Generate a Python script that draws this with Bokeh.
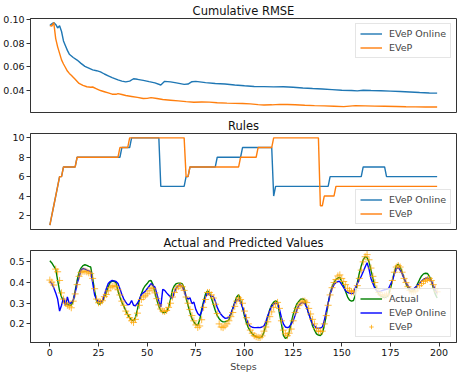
from bokeh.plotting import figure
from bokeh.models import Range1d, FixedTicker
from bokeh.layouts import column
from bokeh.embed import file_html
from bokeh.resources import INLINE

# ---------------- data ----------------
# Panel 1: cumulative RMSE (read at selected steps)
rmse_online_steps = [0, 1, 2, 3, 4, 5, 6, 7, 8, 9, 10, 12, 14, 16, 18, 20, 22, 24, 26, 28, 30, 32, 35, 37,
                     39, 41, 43, 45, 48, 51, 54, 57, 59, 62, 65, 69, 71, 73, 75, 80, 85, 90, 95, 100, 105,
                     110, 115, 120, 125, 130, 135, 140, 145, 150, 155, 158, 161, 165, 170, 175, 180, 185,
                     190, 195, 199]
rmse_online = [0.095, 0.0965, 0.0975, 0.096, 0.093, 0.0948, 0.09, 0.082, 0.078, 0.074, 0.0708, 0.068,
               0.0658, 0.063, 0.0605, 0.059, 0.0575, 0.0568, 0.0558, 0.054, 0.0525, 0.051, 0.049, 0.048,
               0.0473, 0.048, 0.050, 0.0495, 0.0486, 0.0475, 0.0465, 0.0447, 0.0478, 0.0473, 0.0465,
               0.0452, 0.0455, 0.0475, 0.0478, 0.0467, 0.046, 0.0455, 0.0447, 0.044, 0.0434, 0.0433,
               0.0431, 0.0432, 0.0428, 0.0422, 0.0417, 0.0413, 0.0408, 0.0403, 0.040, 0.0397, 0.0402,
               0.040, 0.0398, 0.0395, 0.0392, 0.0388, 0.0383, 0.0379, 0.0378]
rmse_evep_steps = [0, 1, 2, 3, 4, 5, 6, 7, 8, 9, 10, 11, 13, 15, 17, 19, 21, 22, 24, 26, 28, 30, 32, 34,
                   35, 37, 39, 42, 45, 48, 50, 52, 55, 58, 62, 66, 70, 74, 78, 82, 86, 91, 95, 99, 103,
                   107, 110, 114, 118, 122, 126, 131, 136, 141, 146, 151, 154, 157, 162, 167, 172, 178,
                   183, 188, 193, 199]
rmse_evep = [0.095, 0.0945, 0.0975, 0.084, 0.077, 0.0715, 0.066, 0.0625, 0.0595, 0.0565, 0.0545, 0.053,
             0.0495, 0.046, 0.0443, 0.0432, 0.0428, 0.043, 0.0415, 0.040, 0.039, 0.038, 0.0369, 0.0368,
             0.0374, 0.0366, 0.0358, 0.035, 0.0342, 0.0333, 0.0334, 0.034, 0.0332, 0.0324, 0.0318,
             0.0312, 0.0306, 0.0301, 0.0303, 0.0302, 0.0297, 0.0293, 0.0291, 0.029, 0.0287, 0.0281,
             0.0277, 0.0279, 0.0283, 0.0282, 0.0279, 0.0275, 0.0272, 0.027, 0.0267, 0.0264, 0.0268,
             0.0272, 0.027, 0.0268, 0.0267, 0.0265, 0.0263, 0.0262, 0.0261, 0.0261]

# Panels 2 and 3: one value per step 0..199
steps = list(range(200))

rules_online = [
    1, 2, 3, 4, 5, 6, 6, 7, 7, 7,
    7, 7, 7, 7, 8, 8, 8, 8, 8, 8,
    8, 8, 8, 8, 8, 8, 8, 8, 8, 8,
    8, 8, 8, 8, 8, 8, 8, 9, 9, 9,
    9, 9, 10, 10, 10, 10, 10, 10, 10, 10,
    10, 10, 10, 10, 10, 10, 10, 5, 5, 5,
    5, 5, 5, 5, 5, 5, 5, 5, 5, 5,
    6, 6, 7, 7, 7, 7, 7, 7, 7, 7,
    7, 7, 7, 7, 7, 7, 8, 8, 8, 8,
    8, 8, 8, 8, 8, 8, 8, 8, 8, 9,
    9, 9, 9, 9, 9, 9, 9, 9, 9, 9,
    9, 9, 9, 9, 9, 4, 5, 5, 5, 5,
    5, 5, 5, 5, 5, 5, 5, 5, 5, 5,
    5, 5, 5, 5, 5, 5, 5, 5, 5, 5,
    5, 5, 5, 5, 6, 6, 6, 6, 6, 6,
    6, 6, 6, 6, 6, 6, 6, 6, 6, 6,
    6, 7, 7, 7, 7, 7, 7, 7, 7, 7,
    7, 7, 7, 6, 6, 6, 6, 6, 6, 6,
    6, 6, 6, 6, 6, 6, 6, 6, 6, 6,
    6, 6, 6, 6, 6, 6, 6, 6, 6, 6,
]
rules_evep = [
    1, 2, 3, 4, 5, 6, 6, 7, 7, 7,
    7, 7, 7, 7, 8, 8, 8, 8, 8, 8,
    8, 8, 8, 8, 8, 8, 8, 8, 8, 8,
    8, 8, 8, 8, 8, 8, 9, 9, 9, 9,
    9, 10, 10, 10, 10, 10, 10, 10, 10, 10,
    10, 10, 10, 10, 10, 10, 10, 10, 10, 10,
    10, 10, 10, 10, 10, 10, 10, 10, 10, 10,
    6, 6, 7, 7, 7, 7, 7, 7, 7, 7,
    7, 7, 7, 7, 7, 7, 7, 7, 7, 7,
    7, 7, 7, 7, 7, 7, 7, 7, 8, 8,
    8, 8, 8, 8, 8, 8, 8, 9, 9, 9,
    9, 9, 9, 9, 9, 10, 10, 10, 10, 10,
    10, 10, 10, 10, 10, 10, 10, 10, 10, 10,
    10, 10, 10, 10, 10, 10, 10, 10, 10, 3,
    3, 4, 4, 4, 4, 4, 4, 5, 5, 5,
    5, 5, 5, 5, 5, 5, 5, 5, 5, 5,
    5, 5, 5, 5, 5, 5, 5, 5, 5, 5,
    5, 5, 5, 5, 5, 5, 5, 5, 5, 5,
    5, 5, 5, 5, 5, 5, 5, 5, 5, 5,
    5, 5, 5, 5, 5, 5, 5, 5, 5, 5,
]

actual = [
    0.505, 0.495, 0.48, 0.465, 0.41, 0.36, 0.33, 0.31, 0.30, 0.295,
    0.29, 0.29, 0.31, 0.36, 0.41, 0.45, 0.47, 0.482, 0.486, 0.483,
    0.478, 0.475, 0.42, 0.36, 0.31, 0.295, 0.298, 0.31, 0.33, 0.35,
    0.38, 0.40, 0.407, 0.406, 0.40, 0.36, 0.33, 0.305, 0.285, 0.265,
    0.245, 0.23, 0.218, 0.215, 0.232, 0.27, 0.315, 0.345, 0.37, 0.385,
    0.395, 0.408, 0.41, 0.39, 0.35, 0.315, 0.285, 0.265, 0.255, 0.255,
    0.26, 0.28, 0.32, 0.365, 0.385, 0.395, 0.397, 0.397, 0.395, 0.375,
    0.325, 0.29, 0.255, 0.225, 0.21, 0.197, 0.193, 0.22, 0.27, 0.31,
    0.345, 0.36, 0.35, 0.325, 0.295, 0.265, 0.24, 0.225, 0.215, 0.21,
    0.21, 0.213, 0.22, 0.245, 0.275, 0.305, 0.33, 0.341, 0.315, 0.28,
    0.238, 0.205, 0.182, 0.165, 0.152, 0.143, 0.138, 0.134, 0.133, 0.138,
    0.16, 0.193, 0.235, 0.27, 0.292, 0.305, 0.311, 0.305, 0.25, 0.2,
    0.145, 0.13, 0.135, 0.16, 0.205, 0.245, 0.275, 0.298, 0.31, 0.32,
    0.321, 0.315, 0.28, 0.25, 0.225, 0.19, 0.17, 0.152, 0.146, 0.144,
    0.155, 0.19, 0.24, 0.30, 0.345, 0.38, 0.40, 0.415, 0.422, 0.425,
    0.405, 0.385, 0.355, 0.33, 0.315, 0.31, 0.313, 0.34, 0.40, 0.445,
    0.48, 0.51, 0.525, 0.52, 0.50, 0.46, 0.42, 0.38, 0.36, 0.345,
    0.335, 0.33, 0.328, 0.33, 0.34, 0.37, 0.41, 0.45, 0.48, 0.489,
    0.475, 0.45, 0.42, 0.395, 0.375, 0.36, 0.356, 0.362, 0.375, 0.395,
    0.415, 0.432, 0.442, 0.445, 0.444, 0.43, 0.41, 0.375, 0.345, 0.325,
]
online = [
    0.405, 0.395, 0.375, 0.35, 0.32, 0.262, 0.29, 0.325, 0.29, 0.33,
    0.296, 0.303, 0.315, 0.35, 0.395, 0.425, 0.46, 0.468, 0.465, 0.46,
    0.456, 0.452, 0.40, 0.34, 0.318, 0.308, 0.308, 0.312, 0.34, 0.37,
    0.395, 0.405, 0.41, 0.408, 0.405, 0.395, 0.37, 0.342, 0.32, 0.305,
    0.292, 0.295, 0.313, 0.29, 0.288, 0.30, 0.318, 0.342, 0.35, 0.357,
    0.37, 0.382, 0.395, 0.385, 0.378, 0.345, 0.31, 0.282, 0.367, 0.362,
    0.35, 0.34, 0.33, 0.325, 0.355, 0.375, 0.385, 0.39, 0.38, 0.36,
    0.333, 0.32, 0.326, 0.298, 0.305, 0.27, 0.25, 0.24, 0.26, 0.30,
    0.33, 0.348, 0.34, 0.333, 0.333, 0.31, 0.28, 0.26, 0.245, 0.235,
    0.227, 0.228, 0.232, 0.25, 0.274, 0.30, 0.315, 0.32, 0.305, 0.28,
    0.25, 0.222, 0.20, 0.188, 0.184, 0.182, 0.182, 0.183, 0.182, 0.185,
    0.19, 0.21, 0.24, 0.265, 0.285, 0.296, 0.302, 0.298, 0.27, 0.23,
    0.20, 0.185, 0.182, 0.185, 0.20, 0.215, 0.24, 0.27, 0.29, 0.30,
    0.304, 0.298, 0.28, 0.25, 0.222, 0.20, 0.19, 0.18, 0.178, 0.18,
    0.185, 0.215, 0.26, 0.30, 0.345, 0.37, 0.39, 0.40, 0.405, 0.405,
    0.39, 0.375, 0.36, 0.352, 0.348, 0.347, 0.348, 0.375, 0.395, 0.415,
    0.43, 0.452, 0.475, 0.496, 0.465, 0.42, 0.395, 0.372, 0.36, 0.356,
    0.358, 0.362, 0.365, 0.367, 0.37, 0.39, 0.41, 0.44, 0.465, 0.474,
    0.46, 0.444, 0.42, 0.40, 0.385, 0.372, 0.368, 0.37, 0.378, 0.388,
    0.398, 0.408, 0.415, 0.42, 0.422, 0.418, 0.407, 0.385, 0.365, 0.348,
]
evep = [
    0.412, 0.402, 0.388, 0.465, 0.452, 0.41, 0.35, 0.32, 0.30, 0.29,
    0.285, 0.278, 0.31, 0.345, 0.39, 0.43, 0.448, 0.455, 0.455, 0.452,
    0.447, 0.443, 0.42, 0.37, 0.32, 0.302, 0.305, 0.312, 0.332, 0.342,
    0.36, 0.375, 0.382, 0.385, 0.38, 0.365, 0.34, 0.31, 0.29, 0.262,
    0.245, 0.23, 0.215, 0.207, 0.222, 0.252, 0.29, 0.318, 0.33, 0.336,
    0.345, 0.36, 0.374, 0.37, 0.35, 0.322, 0.292, 0.272, 0.262, 0.26,
    0.265, 0.28, 0.30, 0.33, 0.352, 0.37, 0.38, 0.385, 0.38, 0.362,
    0.33, 0.30, 0.27, 0.24, 0.215, 0.195, 0.183, 0.19, 0.22, 0.28,
    0.318, 0.352, 0.352, 0.34, 0.325, 0.295, 0.25, 0.20, 0.185, 0.182,
    0.19, 0.20, 0.215, 0.235, 0.255, 0.285, 0.31, 0.326, 0.318, 0.30,
    0.262, 0.23, 0.20, 0.17, 0.155, 0.143, 0.138, 0.135, 0.134, 0.142,
    0.165, 0.185, 0.21, 0.235, 0.258, 0.28, 0.296, 0.304, 0.275, 0.215,
    0.17, 0.152, 0.143, 0.155, 0.175, 0.215, 0.255, 0.275, 0.29, 0.302,
    0.31, 0.31, 0.303, 0.275, 0.248, 0.222, 0.20, 0.177, 0.166, 0.163,
    0.165, 0.20, 0.24, 0.29, 0.34, 0.375, 0.40, 0.415, 0.432, 0.437,
    0.42, 0.405, 0.39, 0.372, 0.362, 0.356, 0.355, 0.36, 0.385, 0.42,
    0.46, 0.50, 0.525, 0.535, 0.51, 0.47, 0.43, 0.40, 0.37, 0.352,
    0.342, 0.336, 0.336, 0.34, 0.345, 0.37, 0.41, 0.45, 0.475, 0.482,
    0.475, 0.45, 0.42, 0.40, 0.38, 0.362, 0.355, 0.355, 0.36, 0.37,
    0.385, 0.395, 0.405, 0.41, 0.415, 0.42, 0.41, 0.39, 0.37, 0.355,
]

rmse_ticks = [0.04, 0.06, 0.08, 0.10]
rmse_tick_labels = ["0.04", "0.06", "0.08", "0.10"]
rules_ticks = [2, 4, 6, 8, 10]
rules_tick_labels = ["2", "4", "6", "8", "10"]
value_ticks = [0.2, 0.3, 0.4, 0.5]
value_tick_labels = ["0.2", "0.3", "0.4", "0.5"]
step_ticks = [0, 25, 50, 75, 100, 125, 150, 175, 200]
step_tick_labels = ["0", "25", "50", "75", "100", "125", "150", "175", "200"]

titles = ["Cumulative RMSE", "Rules", "Actual and Predicted Values"]

# ---------------- styling ----------------
FONT = "DejaVu Sans"
TICK_FS = "9.5px"
FRAME = "#333333"
C_BLUE = "#1f77b4"
C_ORANGE = "#ff7f0e"

x_range = Range1d(-9.95, 208.95)


def make_fig(title, height, y_range, yticks, ylabels, with_x):
    p = figure(width=458, height=height, x_range=x_range, y_range=y_range,
               output_backend="svg", toolbar_location=None,
               x_axis_location="below" if with_x else None,
               min_border_left=29, min_border_right=2, min_border_top=0,
               min_border_bottom=0 if with_x else 3)
    p.title.text = title
    p.title.align = "center"
    p.title.text_font = FONT
    p.title.text_font_size = "11.5px"
    p.title.text_font_style = "normal"
    p.title.text_color = "#111111"
    p.title.standoff = 2
    p.outline_line_color = FRAME
    p.outline_line_width = 1
    p.xgrid.visible = False
    p.ygrid.visible = False
    p.background_fill_color = "white"
    p.border_fill_color = "white"
    axes = [p.yaxis[0]] + ([p.xaxis[0]] if with_x else [])
    for ax in axes:
        ax.axis_line_color = FRAME
        ax.major_tick_line_color = FRAME
        ax.major_tick_out = 4
        ax.major_tick_in = 0
        ax.minor_tick_out = 0
        ax.minor_tick_in = 0
        ax.major_label_standoff = 2
        ax.major_label_text_font = FONT
        ax.major_label_text_font_size = TICK_FS
        ax.major_label_text_color = "#111111"
    p.yaxis.ticker = FixedTicker(ticks=yticks)
    p.yaxis.major_label_overrides = dict(zip(yticks, ylabels))
    if with_x:
        p.xaxis.ticker = FixedTicker(ticks=step_ticks)
        p.xaxis.major_label_overrides = dict(zip(step_ticks, step_tick_labels))
        p.xaxis.axis_label = "Steps"
        p.xaxis.axis_label_text_font = FONT
        p.xaxis.axis_label_text_font_size = TICK_FS
        p.xaxis.axis_label_text_font_style = "normal"
        p.xaxis.axis_label_standoff = 2
    return p


def style_legend(p, loc):
    lg = p.legend[0]
    lg.location = loc
    lg.label_text_font = FONT
    lg.label_text_font_size = TICK_FS
    lg.label_height = 11
    lg.glyph_height = 11
    lg.glyph_width = 22
    lg.label_standoff = 7
    lg.spacing = 3
    lg.padding = 4
    lg.margin = 5
    lg.border_line_color = "#cccccc"
    lg.border_line_width = 1
    lg.background_fill_color = "white"
    lg.background_fill_alpha = 0.8


# Panel 1
p1 = make_fig(titles[0], 115, Range1d(0.0214, 0.101), rmse_ticks, rmse_tick_labels, False)
p1.line(rmse_online_steps, rmse_online, color=C_BLUE, line_width=1.4, legend_label="EVeP Online")
p1.line(rmse_evep_steps, rmse_evep, color=C_ORANGE, line_width=1.4, legend_label="EVeP")
style_legend(p1, "top_right")

# Panel 2
p2 = make_fig(titles[1], 117, Range1d(0.55, 10.45), rules_ticks, rules_tick_labels, False)
p2.line(steps, rules_online, color=C_BLUE, line_width=1.4, legend_label="EVeP Online")
p2.line(steps, rules_evep, color=C_ORANGE, line_width=1.4, legend_label="EVeP")
style_legend(p2, "bottom_right")

# Panel 3
p3 = make_fig(titles[2], 142, Range1d(0.11, 0.555), value_ticks, value_tick_labels, True)
p3.line(steps, actual, color="green", line_width=1.4, legend_label="Actual")
p3.line(steps, online, color="blue", line_width=1.4, legend_label="EVeP Online")
p3.scatter(steps, evep, marker="cross", size=7, line_color="orange", line_alpha=0.75,
           line_width=1, legend_label="EVeP")
style_legend(p3, "bottom_right")

layout = column(p1, p2, p3, spacing=0)

open("out.html", "w").write(file_html(layout, INLINE))
